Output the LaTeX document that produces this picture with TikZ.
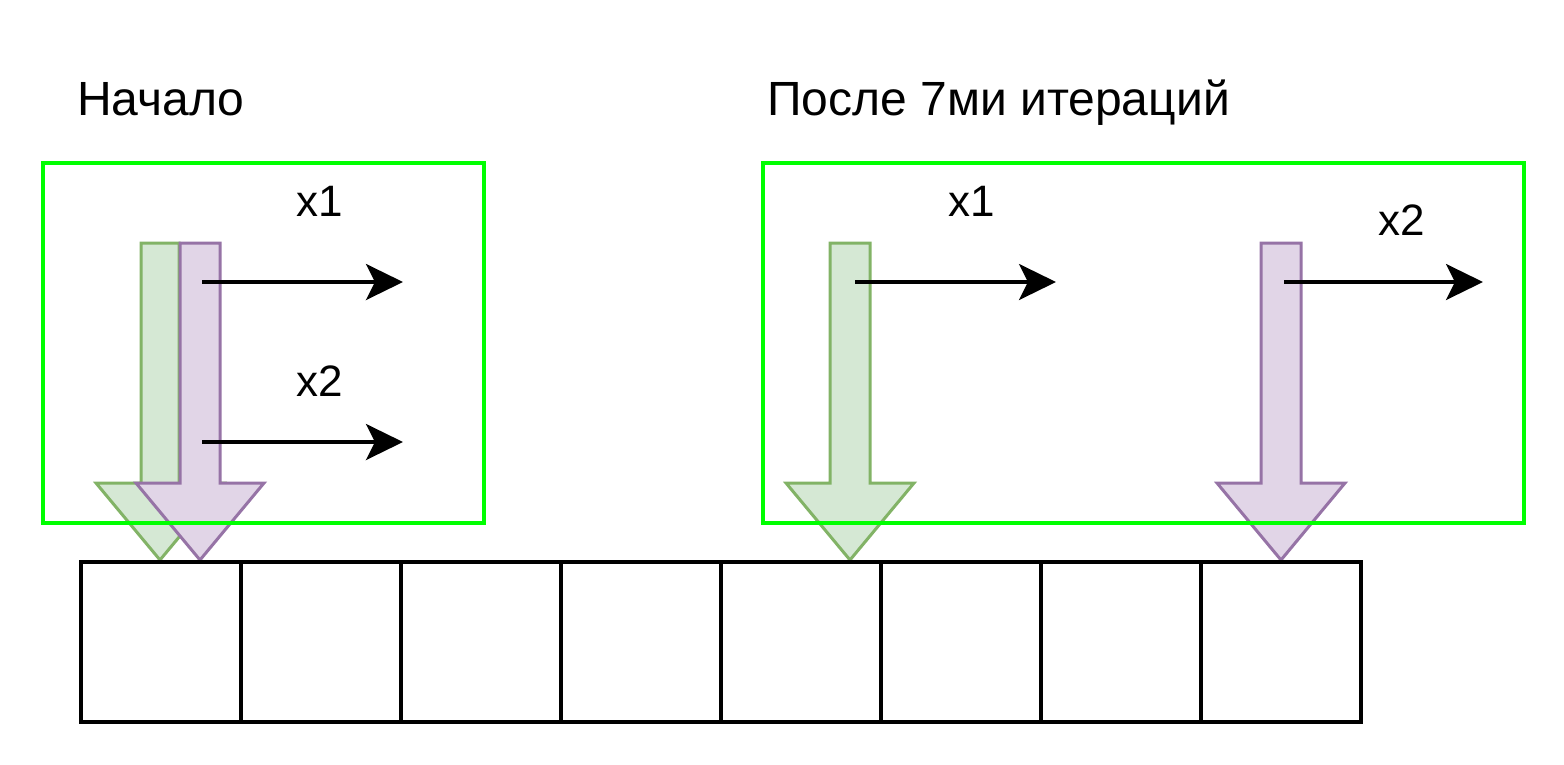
\documentclass[tikz,border=0pt]{standalone}
\usepackage{fontspec}
\setmainfont{Liberation Sans}
\usetikzlibrary{arrows.meta}
\definecolor{boxgreen}{HTML}{00FF00}
\definecolor{gfill}{HTML}{D5E8D4}
\definecolor{gline}{HTML}{82B366}
\definecolor{pfill}{HTML}{E1D5E7}
\definecolor{pline}{HTML}{9673A6}
\begin{document}
\begin{tikzpicture}[x=1pt,y=-1pt,
  txt/.style={anchor=base west,inner sep=0pt,font=\fontsize{48}{56}\selectfont},
  lbl/.style={anchor=base west,inner sep=0pt,font=\fontsize{44}{52}\selectfont},
  frame/.style={draw=boxgreen,line width=3.5pt},
  cell/.style={draw=black,line width=3.5pt,minimum width=160pt,minimum height=160pt,inner sep=0pt,outer sep=0pt},
  garrow/.style={draw=gline,fill=gfill,line width=3pt,line join=miter},
  parrow/.style={draw=pline,fill=pfill,line width=3pt,line join=miter},
  move/.style={line width=3.5pt,-{Stealth[length=37pt,width=36pt,inset=9pt]}}
]
\useasboundingbox (0,0) rectangle (1564,764);
% titles
\node[txt] (t1) at (77,115) {Начало};
\node[txt] (t2) at (767,115) {После 7ми итераций};
% down arrows
\draw[garrow] (141,243) -- (179,243) -- (179,483) -- (224,483) -- (160,560) -- (96,483) -- (141,483) -- cycle;
\draw[parrow] (180,243) -- (220,243) -- (220,483) -- (264,483) -- (200,560) -- (136,483) -- (180,483) -- cycle;
\draw[garrow] (830,243) -- (870,243) -- (870,483) -- (914,483) -- (850,560) -- (786,483) -- (830,483) -- cycle;
\draw[parrow] (1261,243) -- (1301,243) -- (1301,483) -- (1345,483) -- (1281,560) -- (1217,483) -- (1261,483) -- cycle;
% frames
\node[frame,minimum width=441pt,minimum height=360pt,inner sep=0pt,anchor=north west] (f1) at (41,161) {};
\node[frame,minimum width=761pt,minimum height=360pt,inner sep=0pt,anchor=north west] (f2) at (761,161) {};
% cells
\foreach \i in {0,...,7} {
  \node[cell,anchor=north west] (c\i) at ({81+160*\i},562) {};
}
% labels
\node[lbl] (lx1) at (296,216) {x1};
\node[lbl] (lx2) at (296,396) {x2};
\node[lbl] (rx1) at (948,216) {x1};
\node[lbl] (rx2) at (1378,235) {x2};
% move arrows
\coordinate (a1s) at (202,282); \coordinate (a1e) at (403,282);
\coordinate (a2s) at (202,442); \coordinate (a2e) at (403,442);
\coordinate (b1s) at (855,282); \coordinate (b1e) at (1056,282);
\coordinate (b2s) at (1284,282); \coordinate (b2e) at (1483,282);
\draw[move] (a1s) -- (a1e);
\draw[move] (a2s) -- (a2e);
\draw[move] (b1s) -- (b1e);
\draw[move] (b2s) -- (b2e);
\end{tikzpicture}
\end{document}
